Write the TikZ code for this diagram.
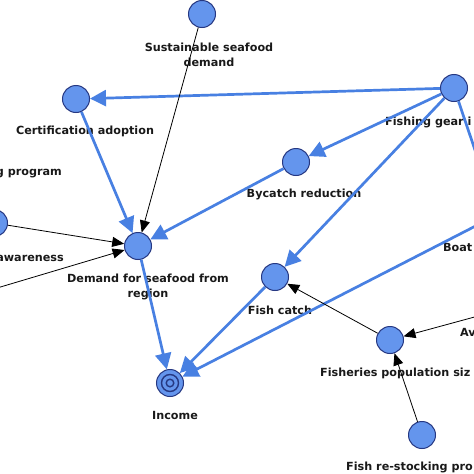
\documentclass[tikz,border=0pt]{standalone}
\usepackage{fontspec}
\setmainfont{DejaVu Sans}
\usetikzlibrary{arrows.meta}
\definecolor{nodefill}{RGB}{100,149,237}
\definecolor{nodeline}{RGB}{38,56,130}
\definecolor{edgeblue}{RGB}{72,128,226}
\tikzset{
  concept/.style={circle, draw=nodeline, fill=nodefill, line width=1pt, minimum size=27pt, inner sep=0pt},
  goal/.style={concept, path picture={\draw[nodeline, line width=1.4pt] (path picture bounding box.center) circle (8.5pt) circle (3.8pt);}},
  lbl/.style={font=\bfseries\fontsize{11.2}{15}\selectfont, align=center, inner sep=0pt, text=black!90},
  plus/.style={draw=edgeblue, line width=2.7pt, -{Triangle[length=16pt,width=16pt,fill=edgeblue]}},
  thin/.style={draw=black, line width=0.8pt, -{Triangle[length=12pt,width=10pt]}}
}
\begin{document}
\begin{tikzpicture}[x=1pt, y=-1pt]
\useasboundingbox (0,0) rectangle (474,474);
\clip (0,0) rectangle (474,474);
\fill[white] (0,0) rectangle (474,474);

% concepts
\node[concept] (sust) at (202,14) {};
\node[concept] (cert) at (76,99) {};
\node[concept] (gear) at (454,88) {};
\node[concept] (bycatch) at (296,162) {};
\node[concept] (prog) at (-34,141) {};
\node[concept] (aware) at (-6,223) {};
\node[concept] (demand) at (138,246) {};
\node[goal] (income) at (170,383) {};
\node[concept] (catch) at (275,277) {};
\node[concept] (pop) at (390,340) {};
\node[concept] (restock) at (422,435) {};
\node[concept] (boat) at (497,215) {};
\node[concept] (avail) at (537,300) {};
\coordinate (leftsrc) at (-60,305);

% labels
\node[lbl] (lsust) at (209,55) {Sustainable seafood\\demand};
\node[lbl] (lcert) at (85,131) {Certification adoption};
\node[lbl, anchor=west] (lgear) at (385,122) {Fishing gear i};
\node[lbl] (lbycatch) at (304,194) {Bycatch reduction};
\node[lbl, anchor=east] (lprog) at (62,174) {g program};
\node[lbl, anchor=east] (laware) at (64,258) {awareness};
\node[lbl] (ldemand) at (148,287) {Demand for seafood from\\region};
\node[lbl] (lincome) at (175,415) {Income};
\node[lbl] (lcatch) at (280,310) {Fish catch};
\node[lbl, anchor=west] (lpop) at (320,373) {Fisheries population siz};
\node[lbl, anchor=west] (lrestock) at (346,467) {Fish re-stocking pro};
\node[lbl, anchor=west] (lboat) at (443,247) {Boat};
\node[lbl, anchor=west] (lavail) at (460,332) {Av};

% positive links
\draw[plus] (gear) -- (cert);
\draw[plus] (gear) -- (bycatch);
\draw[plus] (gear) -- (catch);
\draw[plus] (gear) -- (boat);
\draw[plus] (cert) -- (demand);
\draw[plus] (bycatch) -- (demand);
\draw[plus] (demand) -- (income);
\draw[plus] (catch) -- (income);
\draw[plus] (boat) -- (income);

% other links
\draw[thin] (sust) -- (demand);
\draw[thin] (aware) -- (demand);
\draw[thin] (leftsrc) -- (demand);
\draw[thin] (pop) -- (catch);
\draw[thin] (restock) -- (pop);
\draw[thin] (avail) -- (pop);
\end{tikzpicture}
\end{document}
